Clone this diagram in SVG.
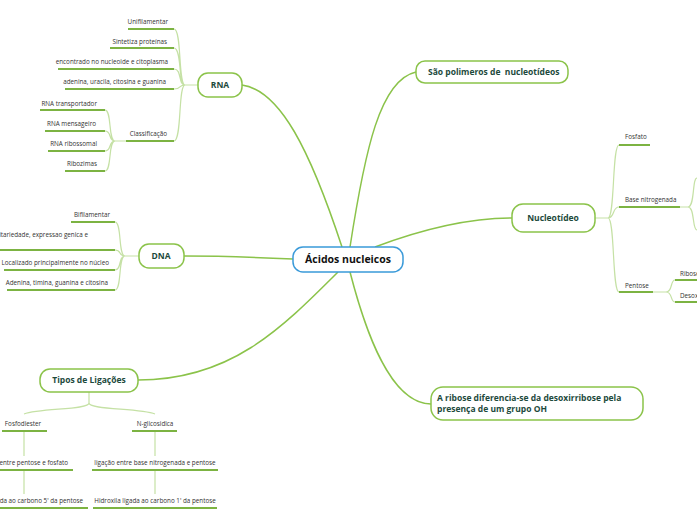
<svg xmlns="http://www.w3.org/2000/svg" width="697" height="520" viewBox="0 0 697 520">
<style>
.n{fill:#fff;stroke:#8bc34a;stroke-width:1.5}
.t{font-family:"Open Sans","Liberation Sans",sans-serif;font-weight:bold;fill:#1d4a3c;font-size:8.5px}
.l{font-family:"Open Sans","Liberation Sans",sans-serif;fill:#333;font-size:6.3px}
.u{stroke:#7cb342;stroke-width:2;fill:none}
.b{stroke:#c5e1a5;stroke-width:1.2;fill:none}
.m{stroke:#8bc34a;stroke-width:1.5;fill:none}
</style>
<rect width="697" height="520" fill="#fff"/>
<g id="connectors">
<path class="m" d="M350,247 C365,150 380,80 416,72"/>
<path class="m" d="M342,247 C310,150 280,90 242,85"/>
<path class="m" d="M293,259 C250,257 220,256 184,256"/>
<path class="m" d="M338,272 C280,330 230,380 138,380"/>
<path class="m" d="M350,272 C365,330 390,404 431,404"/>
<path class="m" d="M375,247 C420,230 470,218 512,218"/>
<path class="b" d="M198,85 H185 M185,85 C178,85 182,29 174,29 M185,85 C178,85 182,48 174,48 M185,85 C178,85 182,69 174,69 M185,85 C178,85 182,89 174,89 M185,85 C178,85 182,141 174,141"/>
<path class="b" d="M126,141 H115 M115,141 C108,141 112,110 105,110 M115,141 C108,141 112,131 105,131 M115,141 C108,141 112,151 105,151 M115,141 C108,141 112,171 105,171"/>
<path class="b" d="M139,256 H125 M125,256 C118,256 122,222 115,222 M125,256 C118,256 122,250 115,250 M125,256 C118,256 122,270 115,270 M125,256 C118,256 122,290 115,290"/>
<path class="b" d="M89,392 V403 C89,410 40,408 24,414 M89,403 C89,410 140,408 155,414 M24,431 V456 M24,470 V494 M155,431 V456 M155,470 V494"/>
<path class="b" d="M595,218 H608 M608,218 C615,218 612,145 619,145 M608,218 C615,218 612,207 619,207 M608,218 C615,218 612,292 619,292 M680,207 H688 C695,207 692,178 697,178 M688,207 C695,207 692,230 697,230 M653,292 H666 C673,292 670,280 675,280 M666,292 C673,292 670,302 675,302"/>
<path class="u" d="M128,29 H174 M110,48 H174 M58,69 H174 M65,89 H174 M126,141 H174 M40,110 H105 M45,131 H105 M48,151 H105 M65,171 H105 M71,222 H115 M0,250 H115 M4,270 H115 M7,290 H115 M2,431 H47 M132,431 H177 M0,470 H73 M92,470 H218 M0,508 H88 M93,508 H217 M619,145 H650 M619,207 H680 M619,292 H653 M675,280 H697 M675,302 H697"/>
</g>
<g id="center"><rect x="293" y="247" width="110" height="25" rx="10" fill="#fff" stroke="#3a9ad9" stroke-width="1.5"/><text x="348" y="263" text-anchor="middle" class="t" style="fill:#111;font-size:10.5px">Ácidos nucleicos</text></g>
<g id="sao"><rect class="n" x="416" y="61" width="152" height="22" rx="9"/><text class="t" x="428" y="75" xml:space="preserve">São polimeros de  nucleotídeos</text></g>
<g id="nucleotideo"><rect class="n" x="512" y="204" width="83" height="28" rx="11"/><text class="t" x="553" y="221" text-anchor="middle">Nucleotídeo</text></g>
<g id="ribose"><rect class="n" x="431" y="387" width="212" height="33" rx="12"/><text class="t" x="437" y="401">A ribose diferencia-se da desoxirribose pela</text><text class="t" x="437" y="412">presença de um grupo OH</text></g>
<g id="rna"><rect class="n" x="198" y="73" width="44" height="24" rx="10"/><text class="t" x="220" y="88" text-anchor="middle">RNA</text></g>
<g id="dna"><rect class="n" x="139" y="244" width="45" height="24" rx="10"/><text class="t" x="161" y="259" text-anchor="middle">DNA</text></g>
<g id="tipos"><rect class="n" x="40" y="369" width="98" height="23" rx="10"/><text class="t" x="89" y="383" text-anchor="middle">Tipos de Ligações</text></g>
<g id="rna-leaves">
<text class="l" x="168" y="24" text-anchor="end">Unifilamentar</text>
<text class="l" x="167" y="44" text-anchor="end">Sintetiza proteínas</text>
<text class="l" x="168" y="64" text-anchor="end">encontrado no nucleoide e citoplasma</text>
<text class="l" x="166" y="84" text-anchor="end">adenina, uracila, citosina e guanina</text>
<text class="l" x="167" y="136" text-anchor="end">Classificação</text>
<text class="l" x="97" y="106" text-anchor="end">RNA transportador</text>
<text class="l" x="96" y="126" text-anchor="end">RNA mensageiro</text>
<text class="l" x="97" y="146" text-anchor="end">RNA ribossomal</text>
<text class="l" x="97" y="166" text-anchor="end">Ribozimas</text>
</g>
<g id="dna-leaves">
<text class="l" x="110" y="217" text-anchor="end">Bifilamentar</text>
<text class="l" x="88" y="237" text-anchor="end">Hereditariedade, expressao genica e</text>
<text class="l" x="109" y="265" text-anchor="end">Localizado principalmente no núcleo</text>
<text class="l" x="108" y="285" text-anchor="end">Adenina, timina, guanina e citosina</text>
</g>
<g id="tipos-leaves">
<text class="l" x="23" y="426" text-anchor="middle">Fosfodiester</text>
<text class="l" x="155" y="426" text-anchor="middle">N-glicosidica</text>
<text class="l" x="68" y="465" text-anchor="end">Ligação entre pentose e fosfato</text>
<text class="l" x="155" y="465" text-anchor="middle">ligação entre base nitrogenada e pentose</text>
<text class="l" x="83" y="503" text-anchor="end">Hidroxila ligada ao carbono 5' da pentose</text>
<text class="l" x="155" y="503" text-anchor="middle">Hidroxila ligada ao carbono 1' da pentose</text>
</g>
<g id="nuc-leaves">
<text class="l" x="625" y="139">Fosfato</text>
<text class="l" x="625" y="202">Base nitrogenada</text>
<text class="l" x="625" y="288">Pentose</text>
<text class="l" x="680" y="276">Ribose</text>
<text class="l" x="680" y="298">Desoxirribose</text>
</g>
</svg>
